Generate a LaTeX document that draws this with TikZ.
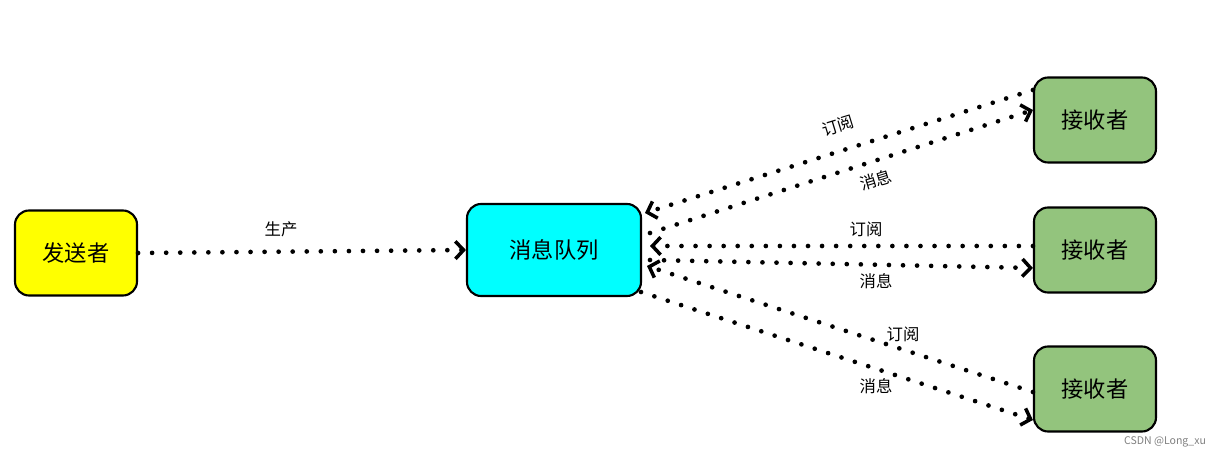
\documentclass[tikz,border=0pt]{standalone}
\usepackage{fontspec}
\setmainfont{Noto Sans CJK SC}
\usetikzlibrary{arrows.meta,calc}
\definecolor{qcyan}{RGB}{0,255,255}
\definecolor{rgreen}{RGB}{147,196,125}
\definecolor{syel}{RGB}{255,255,0}
\begin{document}
\begin{tikzpicture}[x=0.03cm,y=-0.03cm,
 box/.style={draw=black,line width=1.8pt,rounded corners=12pt,minimum width=122*0.03cm,minimum height=85*0.03cm,font=\fontsize{19}{22}\selectfont,inner sep=0pt},
 dl/.style={line width=4pt,line cap=round,dash pattern=on 0pt off 12pt,-{Straight Barb[length=7pt,width=15pt,line width=3pt]}},
 lb/.style={font=\fontsize{14}{16}\selectfont}]
\useasboundingbox (0,0) rectangle (1231,459);
\node[box,fill=syel] (s) at (76,253) {发送者};
\node[box,fill=qcyan,minimum width=174*0.03cm,minimum height=92*0.03cm] (q) at (554,250) {消息队列};
\node[box,fill=rgreen] (r1) at (1095,120) {接收者};
\node[box,fill=rgreen] (r2) at (1095,250) {接收者};
\node[box,fill=rgreen] (r3) at (1095,389) {接收者};
\coordinate (a1) at (645,213); \coordinate (a2) at (650,233);
\coordinate (a3) at (650,246); \coordinate (a4) at (650,260);
\coordinate (a5) at (647,266); \coordinate (a6) at (641,292);
\draw[dl] ($(r1.west)+(0,-30)$) -- (a1);
\node[lb,rotate=17] at (838,126) {订阅};
\draw[dl] (a2) -- ($(r1.west)+(0,-10)$);
\node[lb,rotate=17] at (876,180) {消息};
\draw[dl] (s.east) -- (q.west);
\node[lb] at (281,229) {生产};
\draw[dl] ($(r2.west)+(0,-4)$) -- (a3);
\node[lb] at (866,229) {订阅};
\draw[dl] (a4) -- ($(r2.west)+(0,18)$);
\node[lb] at (876,281) {消息};
\draw[dl] ($(r3.west)+(0,3)$) -- (a5);
\node[lb] at (903,334) {订阅};
\draw[dl] (a6) -- ($(r3.west)+(0,31)$);
\node[lb] at (876,386) {消息};
\node[font=\fontsize{9}{10}\selectfont,text=gray] at (1165,442) {CSDN @Long\_xu};
\end{tikzpicture}
\end{document}
